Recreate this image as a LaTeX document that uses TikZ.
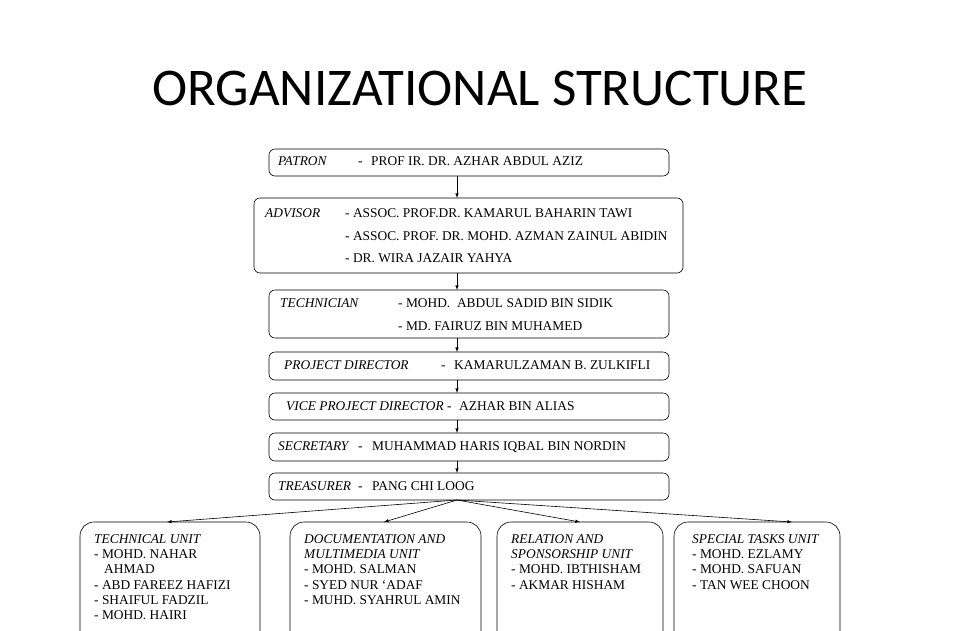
\documentclass[tikz,border=0pt]{standalone}
\usepackage{fontspec}
\setmainfont{Liberation Serif}
\newfontfamily\titlefont{Carlito}
\begin{document}
\begin{tikzpicture}[x=1pt,y=-1pt,
  box/.style={draw,rounded corners=6pt,line width=0.6pt},
  ubox/.style={draw,rounded corners=14pt,line width=0.6pt},
  t/.style={anchor=base west,inner sep=0pt,font=\fontsize{13.4}{15}\selectfont},
  ti/.style={t,font=\fontsize{13.4}{15}\selectfont\itshape},
  arr/.style={-latex,line width=0.6pt}]
\useasboundingbox (0,0) rectangle (960,630);
\node[font=\titlefont\fontsize{53}{56}\selectfont] (title) at (480,88) {ORGANIZATIONAL STRUCTURE};
% boxes
\draw[box] (269,149) rectangle (669,176); \coordinate (pT) at (457,149); \coordinate (pB) at (457,176);
\draw[box] (254,198) rectangle (683,273); \coordinate (aT) at (457,198); \coordinate (aB) at (457,273);
\draw[box] (269,290) rectangle (669,338); \coordinate (tT) at (457,290); \coordinate (tB) at (457,338);
\draw[box] (269,352) rectangle (669,380); \coordinate (dT) at (457,352); \coordinate (dB) at (457,380);
\draw[box] (269,393) rectangle (669,420); \coordinate (vT) at (457,393); \coordinate (vB) at (457,420);
\draw[box] (269,433) rectangle (669,461); \coordinate (sT) at (457,433); \coordinate (sB) at (457,461);
\draw[box] (269,473) rectangle (669,500); \coordinate (rT) at (457,473); \coordinate (rB) at (457,500);
\draw[ubox] (80,522) rectangle (260,650); \coordinate (u1) at (167,522);
\draw[ubox] (290,522) rectangle (481,650); \coordinate (u2) at (384,522);
\draw[ubox] (497,522) rectangle (663,650); \coordinate (u3) at (580,522);
\draw[ubox] (674,522) rectangle (840,650); \coordinate (u4) at (792,522);
% arrows
\draw[arr] (pB) -- (aT);
\draw[arr] (aB) -- (tT);
\draw[arr] (tB) -- (dT);
\draw[arr] (dB) -- (vT);
\draw[arr] (vB) -- (sT);
\draw[arr] (sB) -- (rT);
\foreach \u in {u1,u2,u3,u4} \draw[arr] (rB) -- (\u);
% texts
\node[ti] (l1) at (278,165) {PATRON}; \node[t] at (358,165) {-};
\node[t] (n1) at (371,165) {PROF IR. DR. AZHAR ABDUL AZIZ};
\node[ti] (l2) at (265,217) {ADVISOR};
\node[t] at (345,217) {- ASSOC. PROF.DR. KAMARUL BAHARIN TAWI};
\node[t] at (345,240) {- ASSOC. PROF. DR. MOHD. AZMAN ZAINUL ABIDIN};
\node[t] at (345,262) {- DR. WIRA JAZAIR YAHYA};
\node[ti] (l3) at (280,307) {TECHNICIAN};
\node[t] at (398,307) {- MOHD.\ \ ABDUL SADID BIN SIDIK};
\node[t] at (398,330) {- MD. FAIRUZ BIN MUHAMED};
\node[ti] (l4) at (284,369) {PROJECT DIRECTOR}; \node[t] at (441,369) {-};
\node[t] at (454,369) {KAMARULZAMAN B. ZULKIFLI};
\node[ti] (l5) at (286,410) {VICE PROJECT DIRECTOR -};
\node[t] at (459,410) {AZHAR BIN ALIAS};
\node[ti] (l6) at (278,450) {SECRETARY}; \node[t] at (358,450) {-};
\node[t] at (372,450) {MUHAMMAD HARIS IQBAL BIN NORDIN};
\node[ti] (l7) at (278,490) {TREASURER}; \node[t] at (358,490) {-};
\node[t] at (372,490) {PANG CHI LOOG};
% units
\node[ti] at (94,543) {TECHNICAL UNIT};
\node[t] at (94,558) {- MOHD. NAHAR};
\node[t] at (104,573) {AHMAD};
\node[t] at (94,589) {- ABD FAREEZ HAFIZI};
\node[t] at (94,604) {- SHAIFUL FADZIL};
\node[t] at (94,619) {- MOHD. HAIRI};
\node[ti] at (304,543) {DOCUMENTATION AND};
\node[ti] at (304,558) {MULTIMEDIA UNIT};
\node[t] at (304,573) {- MOHD. SALMAN};
\node[t] at (304,589) {- SYED NUR `ADAF};
\node[t] at (304,604) {- MUHD. SYAHRUL AMIN};
\node[ti] at (511,543) {RELATION AND};
\node[ti] at (511,558) {SPONSORSHIP UNIT};
\node[t] at (511,573) {- MOHD. IBTHISHAM};
\node[t] at (511,589) {- AKMAR HISHAM};
\node[ti] at (692,543) {SPECIAL TASKS UNIT};
\node[t] at (692,558) {- MOHD. EZLAMY};
\node[t] at (692,573) {- MOHD. SAFUAN};
\node[t] at (692,589) {- TAN WEE CHOON};
\end{tikzpicture}
\end{document}
